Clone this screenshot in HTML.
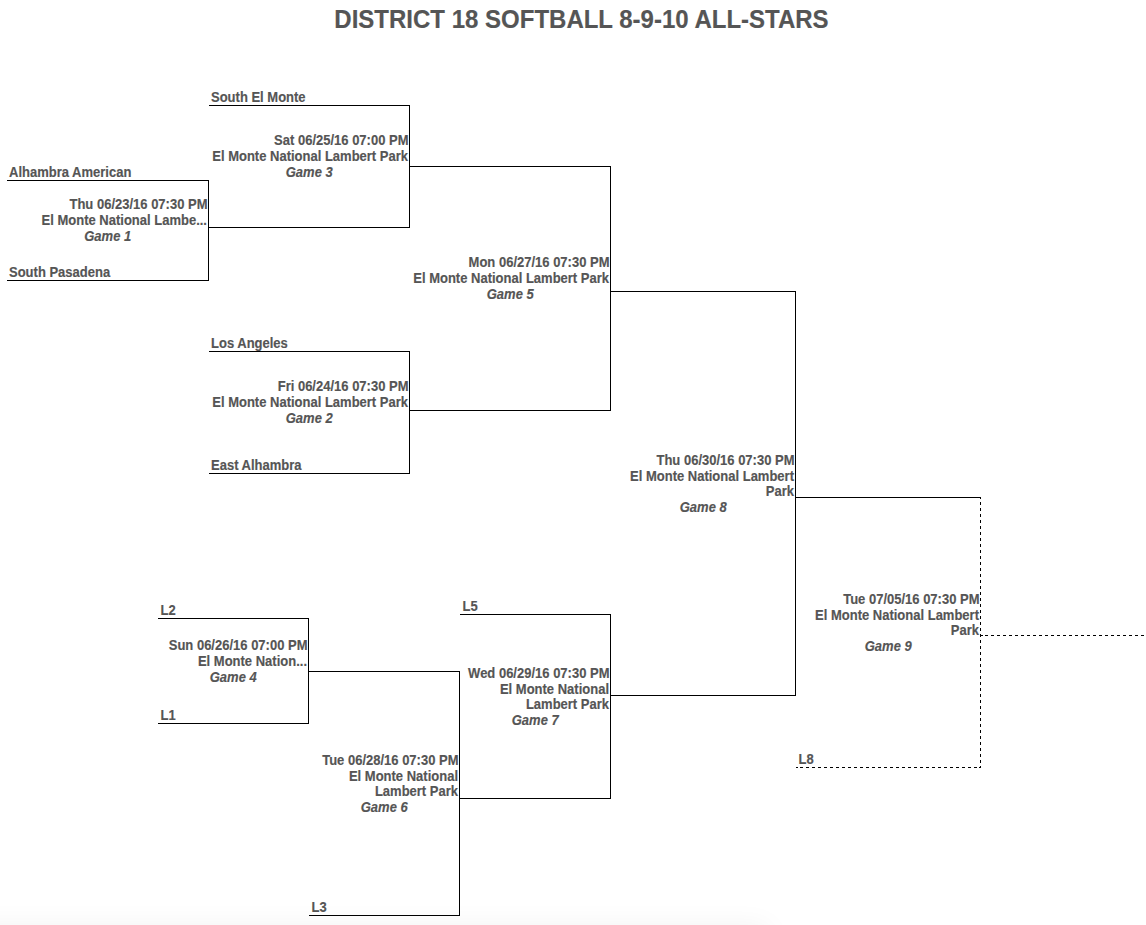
<!DOCTYPE html>
<html lang="en"><head><meta charset="utf-8"><title>District 18 Softball 8-9-10 All-Stars</title>
<style>
html,body{margin:0;padding:0;background:#fff;}
body{width:1146px;height:925px;position:relative;overflow:hidden;font-family:"Liberation Sans",Arial,Helvetica,sans-serif;font-weight:bold;font-size:13px;color:#555;-webkit-text-stroke:0.15px #555;}
h1{position:absolute;left:0;top:6px;width:1163px;margin:0;transform:scaleY(1.045);transform-origin:50% 22px;text-align:center;font-size:24px;line-height:28px;font-weight:bold;color:#555;white-space:nowrap;}
.g{position:absolute;box-sizing:border-box;border:1px solid #000;border-left:0;}
.g.d{border-right:0;border-bottom:0;}
.tm{position:absolute;left:2px;white-space:nowrap;line-height:15px;height:15px;}
.tm.t{top:-16px;}
.tm.b{bottom:0px;}
.in{position:absolute;left:0;right:1px;text-align:right;white-space:nowrap;}
.g.d .in{right:2px;}
.in div{line-height:15px;padding-bottom:1px;}
.in span,.tm{transform:scaleY(1.06);transform-origin:0 12px;}
.in span{display:block;height:15px;}
.in .dt{position:relative;left:0.5px;}
.in .gm{text-align:center;font-style:italic;position:relative;left:0.75px;}
.dh{position:absolute;height:1px;background-image:linear-gradient(to right,#000 50%,rgba(0,0,0,0) 50%);background-size:6px 1px;background-repeat:repeat-x;}
.dv{position:absolute;width:1px;background-image:linear-gradient(to bottom,#000 50%,rgba(0,0,0,0) 50%);background-size:1px 6px;background-repeat:repeat-y;}
.px{position:absolute;background:#000;}
.shade{position:absolute;left:-40px;top:926px;width:808px;height:40px;box-shadow:0 0 28px rgba(0,0,0,0.055);}
</style></head><body>
<h1>DISTRICT 18 SOFTBALL 8-9-10 ALL-STARS</h1>

<div class="g" style="left:7px;top:180px;width:202px;height:101px"><span class="tm t">Alhambra American</span><span class="tm b">South Pasadena</span><div class="in" style="top:16px"><div class="dt"><span>Thu 06/23/16 07:30 PM</span></div><div><span>El Monte National Lambe...</span></div><div class="gm"><span>Game 1</span></div></div></div>
<div class="g" style="left:209px;top:105px;width:201px;height:123px"><span class="tm t">South El Monte</span><div class="in" style="top:27px"><div class="dt"><span>Sat 06/25/16 07:00 PM</span></div><div><span>El Monte National Lambert Park</span></div><div class="gm"><span>Game 3</span></div></div></div>
<div class="g" style="left:209px;top:351px;width:201px;height:123px"><span class="tm t">Los Angeles</span><span class="tm b">East Alhambra</span><div class="in" style="top:27px"><div class="dt"><span>Fri 06/24/16 07:30 PM</span></div><div><span>El Monte National Lambert Park</span></div><div class="gm"><span>Game 2</span></div></div></div>
<div class="g" style="left:410px;top:166px;width:201px;height:245px"><div class="in" style="top:88px"><div class="dt"><span>Mon 06/27/16 07:30 PM</span></div><div><span>El Monte National Lambert Park</span></div><div class="gm"><span>Game 5</span></div></div></div>
<div class="g" style="left:611px;top:291px;width:185px;height:405px"><div class="in" style="top:161px"><div class="dt"><span>Thu 06/30/16 07:30 PM</span></div><div><span>El Monte National Lambert</span><span>Park</span></div><div class="gm"><span>Game 8</span></div></div></div>
<div class="g" style="left:158px;top:618px;width:151px;height:106px"><span class="tm t" style="left:2.5px">L2</span><span class="tm b" style="left:2.5px;">L1</span><div class="in" style="top:19px"><div class="dt"><span>Sun 06/26/16 07:00 PM</span></div><div><span>El Monte Nation...</span></div><div class="gm"><span>Game 4</span></div></div></div>
<div class="g" style="left:309px;top:671px;width:151px;height:245px"><span class="tm b" style="left:2.5px;">L3</span><div class="in" style="top:81px"><div class="dt"><span>Tue 06/28/16 07:30 PM</span></div><div><span>El Monte National</span><span>Lambert Park</span></div><div class="gm"><span>Game 6</span></div></div></div>
<div class="g" style="left:460px;top:614px;width:151px;height:185px"><span class="tm t" style="left:2.5px">L5</span><div class="in" style="top:51px"><div class="dt"><span>Wed 06/29/16 07:30 PM</span></div><div><span>El Monte National</span><span>Lambert Park</span></div><div class="gm"><span>Game 7</span></div></div></div>
<div class="g d" style="left:796px;top:497px;width:185px;height:271px"><span class="tm b" style="bottom:1px;left:2.5px;">L8</span><div class="in" style="top:94px"><div class="dt"><span>Tue 07/05/16 07:30 PM</span></div><div><span>El Monte National Lambert</span><span>Park</span></div><div class="gm"><span>Game 9</span></div></div></div>
<div class="dv" style="left:980px;top:497px;height:271px;background-position:0 -1px"></div>
<div class="dh" style="left:796px;top:767px;width:185px;background-position:-2px 0"></div>
<div class="px" style="left:796px;top:767px;width:2px;height:1px"></div>
<div class="px" style="left:979px;top:767px;width:2px;height:1px"></div>
<div class="px" style="left:980px;top:766px;width:1px;height:2px"></div>
<div class="dh" style="left:981px;top:635px;width:165px;background-position:-2px 0"></div>
<div class="px" style="left:981px;top:635px;width:2px;height:1px"></div>
<div class="shade"></div>
</body></html>
